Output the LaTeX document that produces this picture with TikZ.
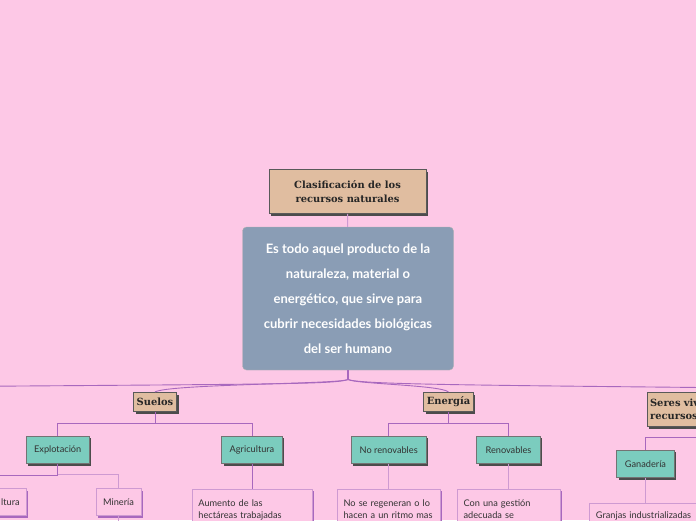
\documentclass[tikz,border=0pt]{standalone}
\usepackage{fontspec}
\setmainfont{Lato}
\newfontfamily\slabfont{DejaVu Serif}
\usepackage{tikz}
\usetikzlibrary{shadows}
\definecolor{bgpink}{HTML}{FDC8E6}
\definecolor{tan}{HTML}{E0BDA0}
\definecolor{teal}{HTML}{7BCCBE}
\definecolor{slate}{HTML}{8A9DB5}
\definecolor{linkc}{HTML}{A868BE}
\definecolor{linklt}{HTML}{CE9AD2}
\tikzset{
  titlebox/.style={draw=black!65, fill=tan, line width=0.7pt, font=\slabfont\bfseries\fontsize{9.9}{13.5}\selectfont, align=center, text=black!85, inner sep=0pt, general shadow={shadow xshift=2.2pt, shadow yshift=-2.4pt, fill=black!70}},
  topicbox/.style={draw=black!55, fill=teal, line width=0.7pt, font=\fontsize{9.2}{11}\selectfont, text=black!80, inner sep=0pt, align=center, minimum height=27.5pt, general shadow={shadow xshift=2.2pt, shadow yshift=-2.2pt, fill=black!70}},
  leafbox/.style={draw=linklt, fill=bgpink, line width=0.8pt, font=\fontsize{9.2}{12}\selectfont, text=black!80, inner xsep=6.5pt, general shadow={shadow xshift=2.2pt, shadow yshift=-2.2pt, fill=linkc}},
  link/.style={draw=linkc, line width=0.9pt},
  linkpale/.style={draw=linklt, line width=1pt},
}
\begin{document}
\begin{tikzpicture}[x=1pt, y=-1pt]
  \useasboundingbox (0,0) rectangle (696,520);
  \clip (0,0) rectangle (696,520);
  \fill[bgpink] (0,0) rectangle (696,520);
  % main boxes
  \node[titlebox, minimum width=157pt, minimum height=44pt] (titulo) at (347.5,191.5) {Clasificación de los\\recursos naturales};
  \node[draw=black!30, fill=slate, rounded corners=4pt, minimum width=211pt, minimum height=143pt, text=white, align=center, font=\fontsize{13}{25.1}\selectfont\bfseries, inner sep=0pt] (central) at (348,298.5) {Es todo aquel producto de la\\naturaleza, material o\\energético, que sirve para\\cubrir necesidades biológicas\\del ser humano};
  \node[titlebox, minimum width=43pt, minimum height=19.5pt] (suelos) at (155,402) {Suelos};
  \node[titlebox, minimum width=49.5pt, minimum height=19.5pt] (energia) at (448.5,402) {Energía};
  \node[titlebox, minimum width=70pt, minimum height=34pt, anchor=west, text width=66pt, align=left, inner xsep=3pt] (seres) at (646.7,409.3) {Seres viv\\recursos};
  % second level
  \node[topicbox, minimum width=63pt] (explota) at (57.7,449.8) {Explotación};
  \node[topicbox, minimum width=60.5pt] (agri) at (252,449.8) {Agricultura};
  \node[topicbox, minimum width=75pt] (norenov) at (388.7,449.8) {No renovables};
  \node[topicbox, minimum width=63.5pt] (renov) at (508.5,449.8) {Renovables};
  \node[topicbox, minimum width=57.5pt] (ganado) at (645.5,463.7) {Ganadería};
  % leaves
  \node[leafbox, minimum height=27pt, anchor=east, text width=53.5pt, align=right] (cultura) at (26.5,502) {ltura};
  \node[leafbox, minimum width=45pt, minimum height=27pt, inner xsep=0pt] (mineria) at (118.5,502) {Minería};
  \node[leafbox, anchor=north west, text width=107pt, align=left, inner ysep=10.5pt] (aumento) at (191.5,488.5) {Aumento de las\\hectáreas trabajadas};
  \node[leafbox, anchor=north west, text width=90pt, align=left, inner ysep=10.5pt] (noseregen) at (336.7,488.5) {No se regeneran o lo\\hacen a un ritmo mas};
  \node[leafbox, anchor=north west, text width=90pt, align=left, inner ysep=10.5pt] (gestion) at (456.7,488.5) {Con una gestión\\adecuada se};
  \node[leafbox, anchor=north west, text width=109pt, align=left, inner ysep=9pt] (granjas) at (589,502.5) {Granjas industrializadas};
  % free ends
  \coordinate (farleft) at (-5,386.2);
  \coordinate (farright) at (701,387.5);
  \coordinate (seresbar) at (701,437);
  \coordinate (minerianext) at (118.5,525);
  \coordinate (junta) at (348,379.5);
  % connectors
  \draw[linkpale] (titulo) -- (central);
  \draw[link, line width=1.2pt] (central.south) -- (junta);
  \draw[link] (junta) .. controls (335,384) and (290,384) .. (farleft);
  \draw[link] (junta) .. controls (340,384) and (170,384) .. (suelos.north);
  \draw[link] (junta) .. controls (356,384) and (440,385) .. (energia.north);
  \draw[link] (junta) .. controls (360,384) and (450,385) .. (farright);
  \draw[link] (suelos.south) -- ++(0,11.3) -| (explota.north);
  \draw[link] (suelos.south) -- ++(0,11.3) -| (agri.north);
  \draw[link] (energia.south) -- ++(0,11.3) -| (norenov.north);
  \draw[link] (energia.south) -- ++(0,11.3) -| (renov.north);
  \draw[link] (seresbar) -| (ganado.north);
  \draw[link] (explota.south) -- ++(0,11.5) -| (cultura.north);
  \draw[linkpale] (explota.south |- mineria.north) ++(0,-13.5) -| (mineria.north);
  \draw[linkpale] (mineria.south) -- (minerianext);
  \draw[link] (agri) -- (aumento.north -| agri);
  \draw[linkpale] (norenov) -- (noseregen.north -| norenov);
  \draw[linkpale] (renov) -- (gestion.north -| renov);
  \draw[linkpale] (ganado) -- (granjas.north -| ganado);
\end{tikzpicture}
\end{document}
